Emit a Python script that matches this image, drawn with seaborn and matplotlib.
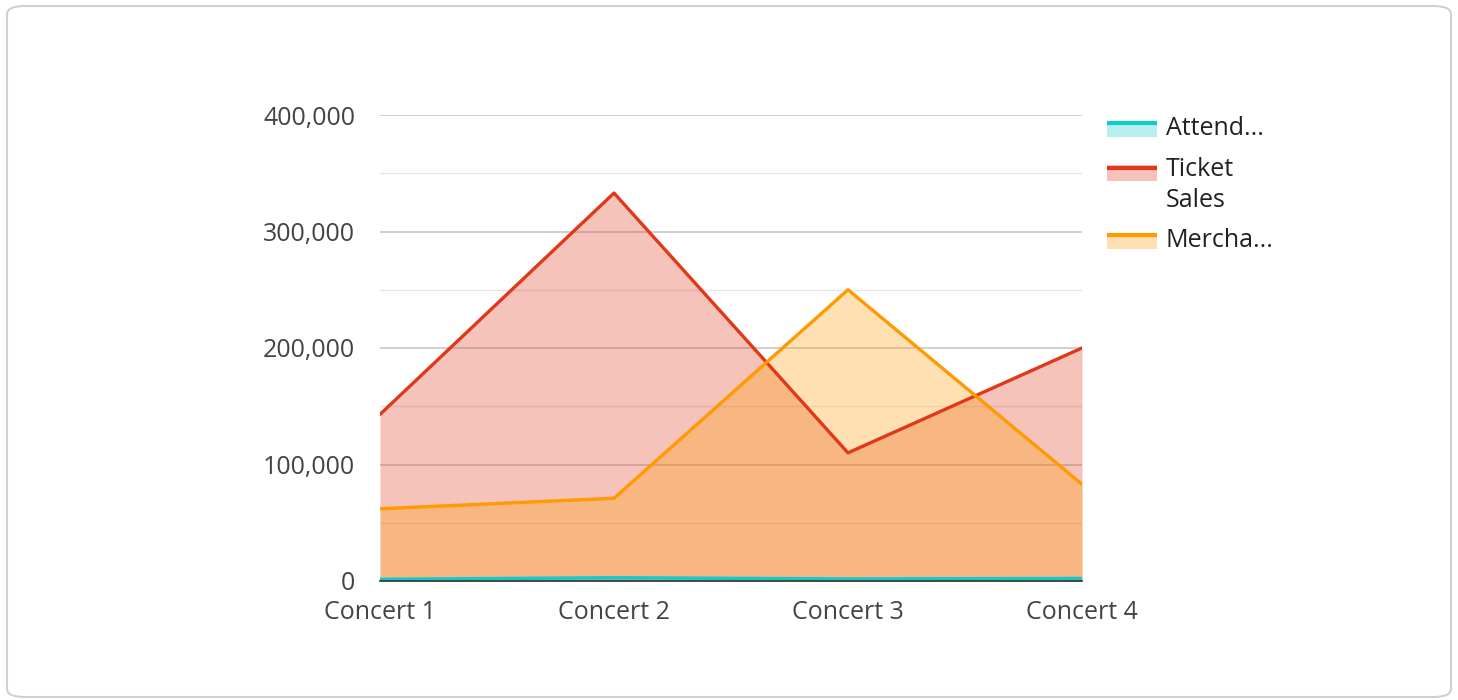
import numpy as np
import pandas as pd
import seaborn as sns
import matplotlib.pyplot as plt
from matplotlib.patches import FancyBboxPatch, Rectangle
from matplotlib.lines import Line2D
from matplotlib.legend_handler import HandlerBase

concerts = ['Concert 1', 'Concert 2', 'Concert 3', 'Concert 4']
attendance = [1500, 2800, 1800, 2200]
ticket_sales = [143000, 333000, 110000, 200000]
merchandise = [62000, 71000, 250000, 83000]

series_names = ['Attendance', 'Ticket Sales', 'Merchandise']
legend_labels = ['Attend...', 'Ticket\nSales', 'Mercha...']
colors = ['#12C9CC', '#E0391A', '#FF9A00']

df = pd.DataFrame({'concert': concerts * 3,
                   'x': list(range(4)) * 3,
                   'value': attendance + ticket_sales + merchandise,
                   'series': np.repeat(series_names, 4)})

sns.set_style('white')
plt.rcParams['font.family'] = ['Open Sans', 'DejaVu Sans']

fig = plt.figure(figsize=(14.58, 7), dpi=100)
ax = fig.add_axes([380 / 1458, 1 - 581 / 700, (1082 - 380) / 1458, (581 - 115) / 700])

# rounded card border
fig.patches.append(FancyBboxPatch((7 / 1458, 3 / 700), 1444 / 1458, 691 / 700,
                                  boxstyle='round,pad=0,rounding_size=0.012',
                                  transform=fig.transFigure, fill=False,
                                  edgecolor='#d0d0d0', linewidth=1.5, zorder=0))

# fills first, ticket sales then merchandise, attendance on top
for name, col in zip(['Ticket Sales', 'Merchandise', 'Attendance'],
                     [colors[1], colors[2], colors[0]]):
    sub = df[df['series'] == name]
    ax.fill_between(sub['x'], 0, sub['value'], color=col, alpha=0.3, linewidth=0, zorder=2)

sns.lineplot(data=df, x='x', y='value', hue='series', hue_order=series_names,
             palette=colors, linewidth=2.4, legend=False, ax=ax, zorder=3)

ax.set_xlim(0, 3)
ax.set_ylim(0, 400000)
ax.set_xticks(range(4))
ax.set_xticklabels(concerts)
ax.set_yticks(range(0, 400001, 100000))
ax.set_yticklabels([f'{v:,}' for v in range(0, 400001, 100000)])
ax.set_yticks(range(50000, 400000, 100000), minor=True)
ax.grid(axis='y', which='major', color='#c4c4c4', linewidth=1.1, zorder=1)
ax.grid(axis='y', which='minor', color='#e6e6e6', linewidth=1.0, zorder=1)
ax.set_axisbelow(True)
ax.set_xlabel('')
ax.set_ylabel('')
ax.tick_params(axis='both', which='both', length=0, labelsize=18, labelcolor='#444444')
ax.tick_params(axis='x', pad=13.5)
ax.tick_params(axis='y', pad=18)
for s in ['left', 'right', 'top']:
    ax.spines[s].set_visible(False)
ax.spines['bottom'].set_color('#333333')
ax.spines['bottom'].set_linewidth(1.2)
ax.spines['bottom'].set_zorder(4)


class AreaHandler(HandlerBase):
    def create_artists(self, legend, orig_handle, xdescent, ydescent,
                       width, height, fontsize, trans):
        col = orig_handle.get_color()
        # two-line labels: keep the swatch next to the first line
        off = 10.5 if orig_handle.get_gid() == 'two_lines' else 0
        rect = Rectangle((-xdescent, -ydescent - 2 + off), width, height, facecolor=col,
                         alpha=0.3, linewidth=0, transform=trans)
        line = Line2D([-xdescent, -xdescent + width], [-ydescent + height - 3.5 + off] * 2,
                      color=col, linewidth=3, solid_capstyle='butt', transform=trans)
        return [rect, line]


handles = [Line2D([], [], color=c) for c in colors]
handles[1].set_gid('two_lines')
leg = fig.legend(handles, legend_labels, handler_map={Line2D: AreaHandler()},
                 loc='upper left', bbox_to_anchor=(1107 / 1458, 1 - 116 / 700),
                 frameon=False, fontsize=18, handlelength=2.0, handleheight=0.6,
                 handletextpad=0.36, labelspacing=0.62, borderpad=0, borderaxespad=0)
for t in leg.get_texts():
    t.set_color('#222222')
    t.set_linespacing(1.32)

fig.savefig('out.png', dpi=100)
